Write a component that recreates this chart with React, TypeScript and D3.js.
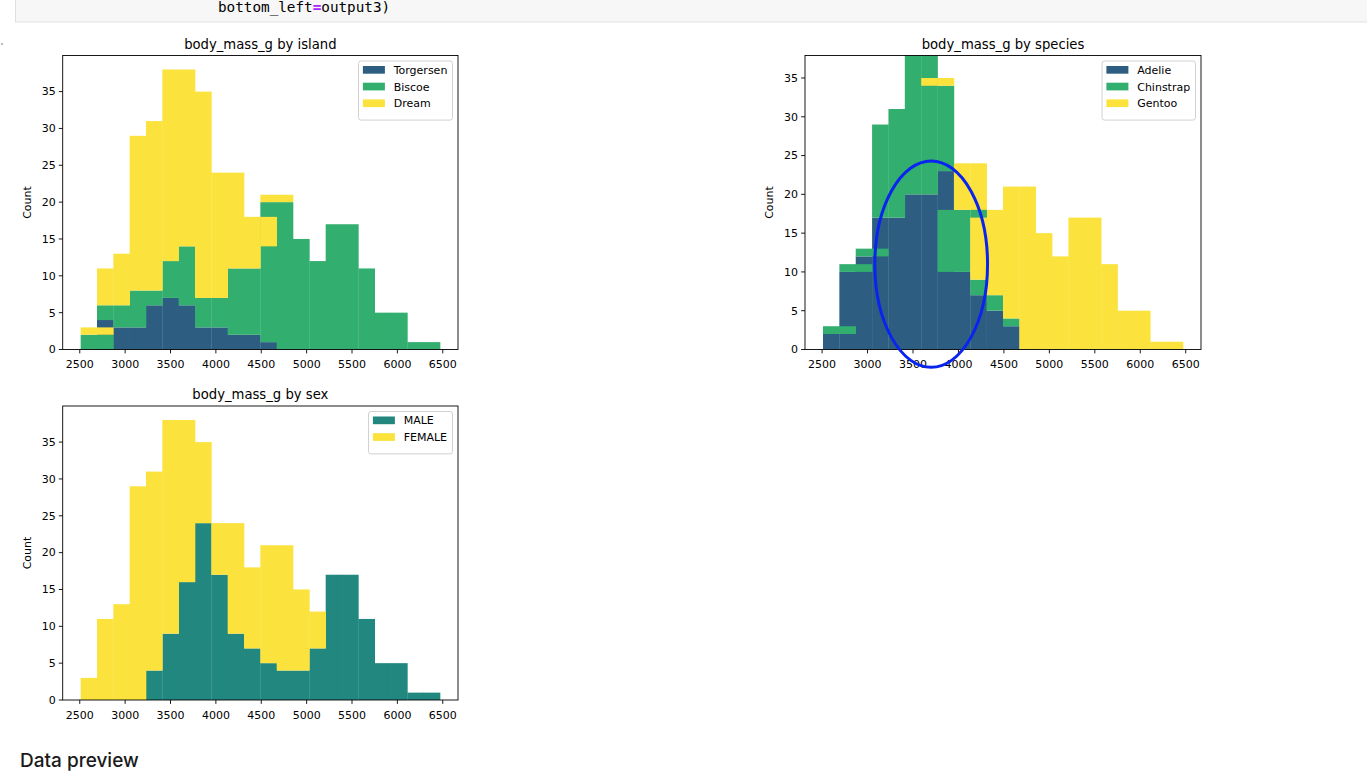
import * as d3 from "d3";

// shared bin edges (g)
const binEdges = [
  2510, 2690, 2870, 3050, 3230, 3410, 3590, 3770, 3950, 4130, 4310, 4490,
  4670, 4850, 5030, 5210, 5390, 5570, 5750, 5930, 6110, 6290, 6470,
];
const xTicks = [2500, 3000, 3500, 4000, 4500, 5000, 5500, 6000, 6500];
const yTicks = [0, 5, 10, 15, 20, 25, 30, 35];

// island
const islandNames = ["Torgersen", "Biscoe", "Dream"];
const torgersenCounts = [0, 4, 3, 3, 6, 7, 6, 3, 3, 2, 2, 1, 0, 0, 0, 0, 0, 0, 0, 0, 0, 0];
const biscoeCounts = [2, 2, 3, 5, 2, 5, 8, 4, 4, 9, 9, 19, 20, 15, 12, 17, 17, 11, 5, 5, 1, 1];
const dreamCounts = [1, 5, 7, 21, 23, 26, 24, 28, 17, 13, 7, 1, 1, 0, 0, 0, 0, 0, 0, 0, 0, 0];

// species
const speciesNames = ["Adelie", "Chinstrap", "Gentoo"];
const adelieCounts = [2, 10, 12, 17, 17, 20, 20, 23, 10, 7, 5, 3, 0, 0, 0, 0, 0, 0, 0, 0, 0, 0];
const chinstrapCounts = [1, 1, 1, 12, 14, 18, 18, 11, 8, 2, 2, 1, 0, 0, 0, 0, 0, 0, 0, 0, 0, 0];
const gentooCounts = [0, 0, 0, 0, 0, 0, 0, 1, 6, 15, 11, 17, 21, 15, 12, 17, 17, 11, 5, 5, 1, 1];

// sex
const sexNames = ["MALE", "FEMALE"];
const maleCounts = [0, 0, 0, 0, 4, 9, 16, 24, 17, 9, 7, 5, 4, 4, 7, 17, 17, 11, 5, 5, 1, 1];
const femaleCounts = [3, 11, 13, 29, 27, 29, 22, 11, 7, 15, 11, 16, 17, 11, 5, 0, 0, 0, 0, 0, 0, 0];

// stray pieces of a neighbouring bar that show on top of the stack: [bin, fromCount, toCount]
type Spill = [number, number, number];
const biscoeSpill: Spill[] = [[1, 0, 2]];
const dreamSpill: Spill[] = [[1, 2, 3], [11, 14, 18]];
const chinstrapSpill: Spill[] = [[1, 2, 3], [2, 10, 11], [3, 12, 13], [7, 10, 18], [9, 17, 18]];
const gentooSpill: Spill[] = [[6, 34, 35]];

// hand-drawn highlight on the species panel (data units: g, count)
const highlight = { cx: 3700, cy: 11, rx: 620, ry: 13.3 };

const DARK = "#2d5e82";
const GREEN = "#32ae6f";
const YELLOW = "#fbe23c";
const TEAL = "#22877f";

const FONT = "'DejaVu Sans', sans-serif";

type Series = { name: string; color: string; counts: number[]; spill?: Spill[] };

type HistProps = {
  id: string;
  title: string;
  series: Series[];
  left: number;
  top: number;
  width: number;
  height: number;
  yMax: number;
  legendWidth: number;
  mark?: { cx: number; cy: number; rx: number; ry: number };
};

const Histogram = ({ id, title, series, left, top, width, height, yMax, legendWidth, mark }: HistProps) => {
  const lo = binEdges[0];
  const hi = binEdges[binEdges.length - 1];
  const pad = (hi - lo) * 0.05;
  const x = d3.scaleLinear().domain([lo - pad, hi + pad]).range([0, width]);
  const y = d3.scaleLinear().domain([0, yMax]).range([height, 0]);

  const rows = binEdges.slice(0, -1).map((e, i) => {
    const row: Record<string, number> = { x0: e, x1: binEdges[i + 1] };
    series.forEach((s) => (row[s.name] = s.counts[i]));
    return row;
  });
  const stacked = d3.stack<Record<string, number>>().keys(series.map((s) => s.name))(rows);

  const rowH = 16.7;
  const legTop = 5.5;
  const legH = 9 + rowH * series.length;

  return (
    <g transform={`translate(${left},${top})`}>
      <defs>
        <clipPath id={`clip-${id}`}>
          <rect x={0} y={0} width={width} height={height} />
        </clipPath>
      </defs>
      <text x={width / 2} y={-7} textAnchor="middle" fontSize={13.2} fontFamily={FONT}>
        {title}
      </text>
      <g clipPath={`url(#clip-${id})`}>
        {stacked.map((layer, li) => (
          <g key={layer.key} fill={series[li].color}>
            {layer.map((d, i) =>
              d[1] - d[0] > 0 ? (
                <rect
                  key={i}
                  x={x(d.data.x0)}
                  y={y(d[1])}
                  width={x(d.data.x1) - x(d.data.x0) + 0.3}
                  height={y(d[0]) - y(d[1])}
                />
              ) : null
            )}
          </g>
        ))}
        {series.map((s) =>
          (s.spill || []).map(([b, c0, c1]) => (
            <rect
              key={`${s.name}-${b}-${c0}`}
              x={x(binEdges[b])}
              y={y(c1)}
              width={x(binEdges[b + 1]) - x(binEdges[b]) + 0.3}
              height={y(c0) - y(c1)}
              fill={s.color}
            />
          ))
        )}
      </g>
      {/* y axis */}
      {yTicks.map((t) => (
        <g key={t} transform={`translate(0,${y(t)})`}>
          <line x1={-3.9} x2={0} stroke="#000" strokeWidth={0.9} />
          <text x={-7} dy="0.35em" textAnchor="end" fontSize={11} fontFamily={FONT}>
            {t}
          </text>
        </g>
      ))}
      {/* x axis */}
      {xTicks.map((t) => (
        <g key={t} transform={`translate(${x(t)},${height})`}>
          <line y1={0} y2={3.9} stroke="#000" strokeWidth={0.9} />
          <text y={18.5} textAnchor="middle" fontSize={11} fontFamily={FONT}>
            {t}
          </text>
        </g>
      ))}
      <text
        transform={`translate(${-32},${height / 2}) rotate(-90)`}
        textAnchor="middle"
        fontSize={11}
        fontFamily={FONT}
      >
        Count
      </text>
      <rect x={0} y={0} width={width} height={height} fill="none" stroke="#000" strokeWidth={0.9} />
      {/* legend */}
      <g transform={`translate(${width - 5.5 - legendWidth},${legTop})`}>
        <rect
          x={0}
          y={0}
          width={legendWidth}
          height={legH}
          rx={2.5}
          fill="#fff"
          fillOpacity={0.8}
          stroke="#cccccc"
          strokeWidth={0.9}
        />
        {series.map((s, i) => (
          <g key={s.name} transform={`translate(4.4,${9 + i * rowH})`}>
            <rect x={0} y={-4} width={22} height={7.7} fill={s.color} />
            <text x={30.8} dy="0.35em" fontSize={11} fontFamily={FONT}>
              {s.name}
            </text>
          </g>
        ))}
      </g>
      {mark && (
        <ellipse
          cx={x(mark.cx)}
          cy={y(mark.cy)}
          rx={x(mark.cx + mark.rx) - x(mark.cx)}
          ry={y(0) - y(mark.ry)}
          fill="none"
          stroke="#0a24f0"
          strokeWidth={3}
        />
      )}
    </g>
  );
};

export default function App() {
  const island: Series[] = [
    { name: islandNames[0], color: DARK, counts: torgersenCounts },
    { name: islandNames[1], color: GREEN, counts: biscoeCounts, spill: biscoeSpill },
    { name: islandNames[2], color: YELLOW, counts: dreamCounts, spill: dreamSpill },
  ];
  const species: Series[] = [
    { name: speciesNames[0], color: DARK, counts: adelieCounts },
    { name: speciesNames[1], color: GREEN, counts: chinstrapCounts, spill: chinstrapSpill },
    { name: speciesNames[2], color: YELLOW, counts: gentooCounts, spill: gentooSpill },
  ];
  const sex: Series[] = [
    { name: sexNames[0], color: TEAL, counts: maleCounts },
    { name: sexNames[1], color: YELLOW, counts: femaleCounts },
  ];

  return (
    <svg
      width={1367}
      height={772}
      style={{ position: "absolute", left: 0, top: 0, display: "block", background: "#fff" }}
    >
      {/* notebook code cell tail */}
      <rect x={15.5} y={-1} width={1360} height={23} fill="#f7f7f7" stroke="#e0e0e0" />
      <text x={218} y={12} fontSize={14.3} fontFamily="'DejaVu Sans Mono', monospace" fill="#000">
        bottom_left
        <tspan fill="#aa22ff" fontWeight="bold">=</tspan>
        output3)
      </text>
      <rect x={1} y={43} width={2} height={2} fill="#bbb" />

      <Histogram
        id="island"
        title="body_mass_g by island"
        series={island}
        left={62.7}
        top={55.5}
        width={395.3}
        height={294}
        yMax={39.9}
        legendWidth={94}
      />
      <Histogram
        id="species"
        title="body_mass_g by species"
        series={species}
        left={805}
        top={55.5}
        width={396}
        height={294}
        yMax={37.9}
        legendWidth={93.5}
        mark={highlight}
      />
      <Histogram
        id="sex"
        title="body_mass_g by sex"
        series={sex}
        left={62.7}
        top={406}
        width={395.3}
        height={294}
        yMax={39.9}
        legendWidth={84}
      />

      <text x={20} y={767} fontSize={19} fontFamily="Inter, 'Noto Sans', sans-serif" fontWeight={500} fill="#1a1a1a">
        Data preview
      </text>
    </svg>
  );
}
